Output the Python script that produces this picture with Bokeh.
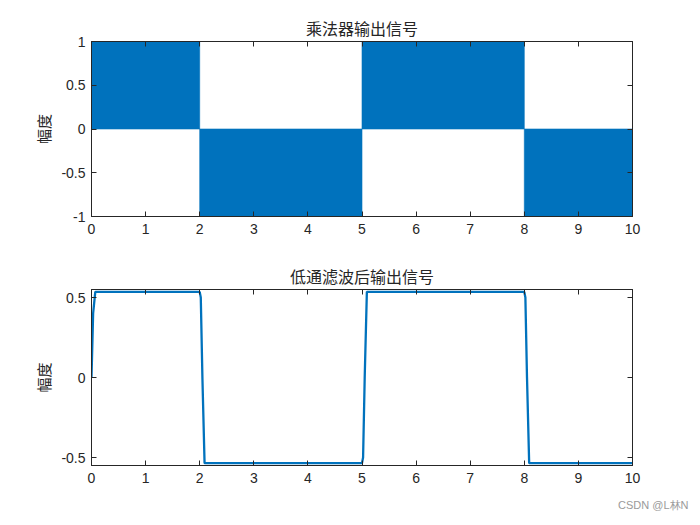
from bokeh.plotting import figure
from bokeh.layouts import column
from bokeh.models import (Range1d, FixedTicker, LinearAxis, Title, ColumnDataSource,
                          CustomJSTickFormatter)
from bokeh.embed import file_html
from bokeh.resources import INLINE

# ---- data ----
bit_start = [0, 1, 2, 3, 4, 5, 6, 7, 8, 9]          # start time of each 1 s symbol
bit_values = [1, 1, -1, -1, -1, 1, 1, 1, -1, -1]    # multiplier output envelope (0..±1)

filt_t = [0, 0.03, 0.07, 2.0, 2.02, 2.05, 2.09, 5.0, 5.02, 5.05, 5.09, 8.0, 8.02, 8.05, 8.09, 10]
filt_y = [0, 0.40, 0.535, 0.535, 0.50, 0.0, -0.535, -0.535, -0.50, 0.0, 0.535, 0.535, 0.50, 0.0, -0.535, -0.535]

x_ticks = [0, 1, 2, 3, 4, 5, 6, 7, 8, 9, 10]
top_y_ticks = [-1, -0.5, 0, 0.5, 1]
bot_y_ticks = [-0.5, 0, 0.5]

top_title = "乘法器输出信号"
bot_title = "低通滤波后输出信号"
y_label = "幅度"
watermark = "CSDN @L林N"

BLUE = "#0072BD"
AX = "#262626"
CJK = "Noto Sans CJK SC"
LAT = "Liberation Sans"


def style(p, yticks, title):
    p.title.text = title
    p.title.align = "center"
    p.title.text_font = CJK
    p.title.text_font_size = "16px"
    p.title.text_font_style = "normal"
    p.title.text_color = AX
    p.title.standoff = 3
    p.outline_line_color = AX
    p.outline_line_width = 1
    p.outline_line_alpha = 1
    p.xgrid.visible = False
    p.ygrid.visible = False
    xb = p.xaxis[0]
    yl = p.yaxis[0]
    plain = CustomJSTickFormatter(code="return tick.toString()")
    xb.ticker = FixedTicker(ticks=x_ticks)
    yl.ticker = FixedTicker(ticks=yticks)
    xb.formatter = plain
    yl.formatter = plain
    yl.axis_label = y_label
    yl.axis_label_text_font = CJK
    yl.axis_label_text_font_size = "15px"
    yl.axis_label_text_font_style = "normal"
    yl.axis_label_text_color = AX
    yl.axis_label_standoff = 4
    xb.major_label_standoff = 7
    yl.major_label_standoff = 6
    xb.major_label_text_font_size = "14px"
    yl.major_label_text_font_size = "14px"
    # mirrored tick-only axes (no labels)
    blank = CustomJSTickFormatter(code="return ''")
    top_ax = LinearAxis(ticker=FixedTicker(ticks=x_ticks), formatter=blank,
                        major_label_standoff=0)
    right_ax = LinearAxis(ticker=FixedTicker(ticks=yticks), formatter=blank,
                          major_label_standoff=0)
    p.add_layout(top_ax, "above")
    p.add_layout(right_ax, "right")
    for ax in [xb, yl, top_ax, right_ax]:
        ax.major_tick_in = 5
        ax.major_tick_out = 0
        ax.minor_tick_line_color = None
        ax.axis_line_color = AX
        ax.major_tick_line_color = AX
        ax.major_label_text_font = LAT
        ax.major_label_text_color = AX


# merge consecutive equal symbols into blocks (avoids seams between quads)
blk_left, blk_right, blk_top = [], [], []
for s, v in zip(bit_start, bit_values):
    if blk_top and blk_top[-1] == v and blk_right[-1] == s:
        blk_right[-1] = s + 1
    else:
        blk_left.append(s)
        blk_right.append(s + 1)
        blk_top.append(v)

p1 = figure(width=700, height=252, output_backend="svg", toolbar_location=None,
            x_range=Range1d(0, 10), y_range=Range1d(-1, 1),
            min_border_left=91, min_border_right=68, min_border_top=41, min_border_bottom=36,
            frame_width=541, frame_height=175)
src1 = ColumnDataSource(dict(left=blk_left, right=blk_right,
                             top=blk_top, bottom=[0] * len(blk_top)))
p1.quad(left="left", right="right", top="top", bottom="bottom", source=src1,
        fill_color=BLUE, line_color=BLUE, line_width=0.6)
style(p1, top_y_ticks, top_title)

p2 = figure(width=700, height=268, output_backend="svg", toolbar_location=None,
            x_range=Range1d(0, 10), y_range=Range1d(-0.55, 0.55),
            min_border_left=91, min_border_right=68, min_border_top=37, min_border_bottom=55,
            frame_width=541, frame_height=176)
p2.line(filt_t, filt_y, line_color=BLUE, line_width=2.3)
style(p2, bot_y_ticks, bot_title)
p2.add_layout(Title(text=watermark, align="right", offset=-56, standoff=22,
                    text_font=LAT, text_font_size="11px", text_font_style="normal",
                    text_color="#9a9a9a"), "below")

layout = column(p1, p2, spacing=0)
open("out.html", "w").write(file_html(layout, INLINE))
